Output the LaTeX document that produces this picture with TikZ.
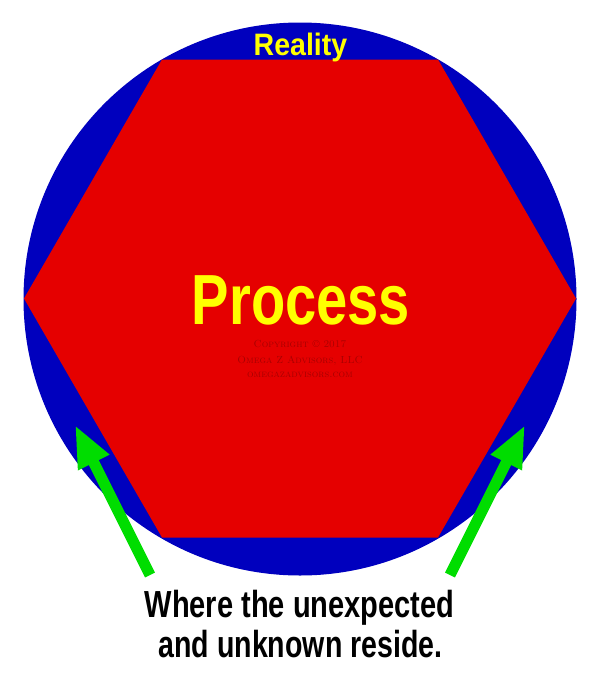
\documentclass[tikz,border=0pt]{standalone}
\usepackage{fontspec}
\usepackage{pdfrender}
\newfontfamily\headfont{Liberation Sans}[BoldFont={Liberation Sans Bold}]
\usetikzlibrary{arrows.meta}
\definecolor{realblue}{RGB}{0,0,190}
\definecolor{procred}{RGB}{229,0,0}
\definecolor{txtyellow}{RGB}{255,255,0}
\definecolor{arrgreen}{RGB}{0,221,0}
\definecolor{copyred}{RGB}{168,0,0}
\newcommand{\heavytext}[2]{\textpdfrender{TextRenderingMode=FillStroke,LineWidth=#1}{#2}}
\tikzset{
  greenarrow/.style={draw=arrgreen, line width=11pt,
    -{Triangle[length=42pt,width=32pt]}},
  headtext/.style={inner sep=0pt, anchor=base, text=txtyellow},
  bottomtext/.style={inner sep=0pt, anchor=base, text=black},
  copytext/.style={inner sep=0pt, anchor=base, text=copyred,
    font=\fontsize{10.3}{11}\selectfont\scshape}
}
\begin{document}
\begin{tikzpicture}[x=1pt,y=-1pt]
\useasboundingbox (0,0) rectangle (600,675);
% circle (reality)
\fill[realblue] (300,299) circle[radius=276.5];
% hexagon (process)
\fill[procred] (576,298.5) -- (438,59.5) -- (162,59.5) -- (24,298.5)
  -- (162,537.5) -- (438,537.5) -- cycle;
% labels
\node[headtext] (reality) at (300.5,55)
  {\scalebox{0.92}[1]{\fontsize{31}{32}\selectfont\headfont\bfseries\heavytext{1.2pt}{Reality}}};
\node[headtext] (process) at (301,324)
  {\scalebox{0.79}[1]{\fontsize{71}{72}\selectfont\headfont\bfseries\heavytext{2.4pt}{Process}}};
\node[copytext] (copy1) at (300,347) {Copyright \textcopyright\ 2017};
\node[copytext] (copy2) at (300,363) {Omega Z Advisors, LLC};
\node[copytext] (copy3) at (300,377) {omegazadvisors.com};
\node[bottomtext] (line1) at (299.5,617)
  {\scalebox{0.77}[1]{\fontsize{37.7}{40}\selectfont\headfont\bfseries\heavytext{1.4pt}{Where the unexpected}}};
\node[bottomtext] (line2) at (300.5,657)
  {\scalebox{0.757}[1]{\fontsize{37.7}{40}\selectfont\headfont\bfseries\heavytext{1.4pt}{and unknown reside.}}};
% arrows
\coordinate (ltail) at (150,575);
\coordinate (ltip) at (75,425);
\coordinate (rtail) at (450,575);
\coordinate (rtip) at (525,425);
\draw[greenarrow] (ltail) -- (ltip);
\draw[greenarrow] (rtail) -- (rtip);
\end{tikzpicture}
\end{document}
